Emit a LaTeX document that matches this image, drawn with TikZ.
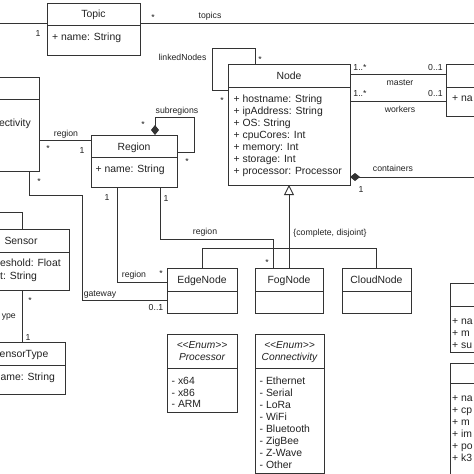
\documentclass[tikz,border=0pt]{standalone}
\usepackage{fontspec}
\setmainfont{Liberation Sans}
\usetikzlibrary{arrows.meta}
\definecolor{lc}{HTML}{333333}
\definecolor{tc}{HTML}{222222}
\tikzset{
  ln/.style={draw=lc, line width=0.9pt},
  box/.style={draw=lc, line width=1pt, inner sep=0pt, outer sep=0pt, anchor=north west, fill=white},
  t/.style={text=tc, font=\fontsize{10.4}{12}\selectfont, inner sep=0pt, text height=0.7em, text depth=0pt},
  tw/.style={t, anchor=west},
  te/.style={t, anchor=east},
  it/.style={t, font=\fontsize{10.2}{12}\selectfont\itshape},
  lb/.style={text=tc, font=\fontsize{8.7}{10}\selectfont, inner sep=0pt, text height=0.7em, text depth=0pt},
  ast/.style={lb, yshift=-2pt},
  gen/.style={ln, -{Triangle[open, length=10pt, width=10pt, line width=0.9pt]}},
  comp/.style={ln, {Diamond[length=10pt, width=8pt, fill=lc]}-},
}
\newcommand\umlbox[6]{%
  \node[box, minimum width={(#4-#2)*1pt}, minimum height={(#5-#3)*1pt}] (#1) at (#2,#3) {};
  \draw[ln] (#1.west |- 0,#6) -- (#1.east |- 0,#6);}
\newcommand\enumtag{<\kern0pt<Enum>\kern0pt>}
\begin{document}
\begin{tikzpicture}[x=1pt, y=-1pt]
\path[use as bounding box] (0,0) rectangle (474,474);
\fill[white] (0,0) rectangle (474,474);
\clip (0,0) rectangle (474,474);

\coordinate (tl) at (0,23);
\coordinate (tr) at (474,23);
\coordinate (cr) at (474,177);
\coordinate (sl) at (0,212);

% ---------- classes ----------
\umlbox{topic}{47}{3}{140}{55}{25}
\node[t] (topicT) at (93.5,14) {Topic};
\node[tw] (topicA) at (52,37) {+ name: String};

\umlbox{node}{228}{64}{350}{185}{87}
\node[t] (nodeT) at (289,76) {Node};
\node[tw] (nA1) at (233.5,98.5) {+ hostname: String};
\node[tw] (nA2) at (233.5,110.6) {+ ipAddress: String};
\node[tw] (nA3) at (233.5,122.7) {+ OS: String};
\node[tw] (nA4) at (233.5,134.8) {+ cpuCores: Int};
\node[tw] (nA5) at (233.5,146.9) {+ memory: Int};
\node[tw] (nA6) at (233.5,159.0) {+ storage: Int};
\node[tw] (nA7) at (233.5,171.1) {+ processor: Processor};

\umlbox{cluster}{446}{64}{530}{116}{87}
\node[tw] (clA) at (452,98) {+ na};

\umlbox{conn}{-60}{77}{39}{171}{99}
\node[te] (connA) at (31,123) {ectivity};

\umlbox{region}{91}{135}{177}{187}{157}
\node[t] (regionT) at (134,147) {Region};
\node[tw] (regionA) at (95.5,169) {+ name: String};

\umlbox{sensor}{-27}{229}{69}{290}{252}
\node[t] (sensorT) at (21,241) {Sensor};
\node[tw] (sensorA1) at (0,263) {eshold: Float};
\node[tw] (sensorA2) at (0,276) {t: String};

\umlbox{stype}{-23}{342}{65}{394}{365}
\node[te] (stypeT) at (48.5,354) {ensorType};
\node[tw] (stypeA) at (0.5,377) {ame: String};

\umlbox{edge}{167}{268}{237}{313}{291}
\node[t] (edgeT) at (202,280) {EdgeNode};
\umlbox{fog}{255}{268}{323}{313}{291}
\node[t] (fogT) at (289,280) {FogNode};
\umlbox{cloud}{342}{268}{411}{313}{291}
\node[t] (cloudT) at (376.5,280) {CloudNode};

\umlbox{proc}{167}{334}{237}{412}{368}
\node[it] (procS) at (202,345) {\enumtag};
\node[it] (procT) at (202,357) {Processor};
\node[tw] (p1) at (171.5,381) {- x64};
\node[tw] (p2) at (171.5,392.7) {- x86};
\node[tw] (p3) at (171.5,404.4) {- ARM};

\umlbox{connE}{255}{334}{324}{473}{368}
\node[it] (connS) at (289.5,345) {\enumtag};
\node[it] (connT) at (289.5,357) {Connectivity};
\node[tw] (c1) at (259.5,380.7) {- Ethernet};
\node[tw] (c2) at (259.5,392.75) {- Serial};
\node[tw] (c3) at (259.5,404.8) {- LoRa};
\node[tw] (c4) at (259.5,416.85) {- WiFi};
\node[tw] (c5) at (259.5,428.9) {- Bluetooth};
\node[tw] (c6) at (259.5,440.95) {- ZigBee};
\node[tw] (c7) at (259.5,453) {- Z-Wave};
\node[tw] (c8) at (259.5,465.05) {- Other};

\umlbox{rb1}{450}{283}{530}{352}{306}
\node[tw] (r1) at (452,321) {+ na};
\node[tw] (r2) at (452,333) {+ m};
\node[tw] (r3) at (452,345) {+ su};

\umlbox{rb2}{450}{363}{530}{490}{383}
\node[tw] (s1) at (452,398) {+ na};
\node[tw] (s2) at (452,410) {+ cp};
\node[tw] (s3) at (452,422) {+ m};
\node[tw] (s4) at (452,434) {+ im};
\node[tw] (s5) at (452,446) {+ po};
\node[tw] (s6) at (452,458) {+ k3};

% ---------- connectors ----------
\draw[ln] (tl) -- (topic.west |- tl);
\draw[ln] (topic.east |- tr) -- (tr);
\node[lb] (m1) at (38,33) {1};
\node[ast] (m2) at (153,15) {*};
\node[lb] (l1) at (210,15) {topics};

\draw[ln] (node.west |- 0,90) -- (212,90) -- (212,48) -- (255,48) -- (node.north -| 255,0);
\node[lb] (l2) at (182.5,57) {linkedNodes};
\node[ast] (m3) at (222,98) {*};
\node[ast] (m4) at (260,57) {*};

\draw[ln] (node.east |- 0,74) -- (cluster.west |- 0,74);
\node[lb] (m5) at (360,67) {1..*};
\node[lb] (m6) at (435.5,67) {0..1};
\node[lb] (l3) at (400,82) {master};
\draw[ln] (node.east |- 0,101) -- (cluster.west |- 0,101);
\node[lb] (m7) at (360,93) {1..*};
\node[lb] (m8) at (435.5,93) {0..1};
\node[lb] (l4) at (400,108.5) {workers};

\draw[comp] (node.east |- cr) -- (cr);
\node[lb] (l5) at (393,168) {containers};
\node[lb] (m9) at (361,189) {1};

\draw[gen] (fog.north) -- (node.south);
\draw[ln] (edge.north) -- (edge.north |- 0,248) -- (cloud.north |- 0,248) -- (cloud.north);
\node[lb] (l6) at (330,232) {\{complete, disjoint\}};

\draw[ln] (conn.east |- 0,140) -- (region.west |- 0,140);
\node[lb] (l7) at (66,133) {region};
\node[ast] (m10) at (48,146) {*};
\node[lb] (m11) at (82,150) {1};

\draw[ln] (conn.south -| 29,0) -- (29,195) -- (82,195) -- (82,300) -- (edge.west |- 0,300);
\node[ast] (m12) at (39,179) {*};
\node[lb] (l8) at (100,292.5) {gateway};
\node[lb] (m13) at (156,307) {0..1};

\draw[ln] (region.south -| 117,0) -- (117,282) -- (edge.west |- 0,282);
\node[lb] (m14) at (107,197) {1};
\node[lb] (l9) at (134,274) {region};
\node[ast] (m15) at (161,271) {*};

\draw[ln] (region.south -| 160,0) -- (160,239) -- (273,239) -- (fog.north -| 273,0);
\node[lb] (m16) at (166,198) {1};
\node[lb] (l10) at (205,231) {region};
\node[ast] (m17) at (267,260) {*};

\draw[comp] (region.north -| 155,0) -- (155,117) -- (194,117) -- (194,152) -- (region.east |- 0,152);
\node[lb] (l11) at (177,110) {subregions};
\node[ast] (m18) at (143,122) {*};
\node[ast] (m19) at (187,159) {*};

\draw[ln] (sl) -- (22,212) -- (sensor.north -| 22,0);
\draw[ln] (sensor.south -| 22,0) -- (stype.north -| 22,0);
\node[ast] (m20) at (30,298) {*};
\node[lb] (m21) at (28,337) {1};
\node[lb, anchor=east] (l12) at (16,315) {ype};
\end{tikzpicture}
\end{document}
